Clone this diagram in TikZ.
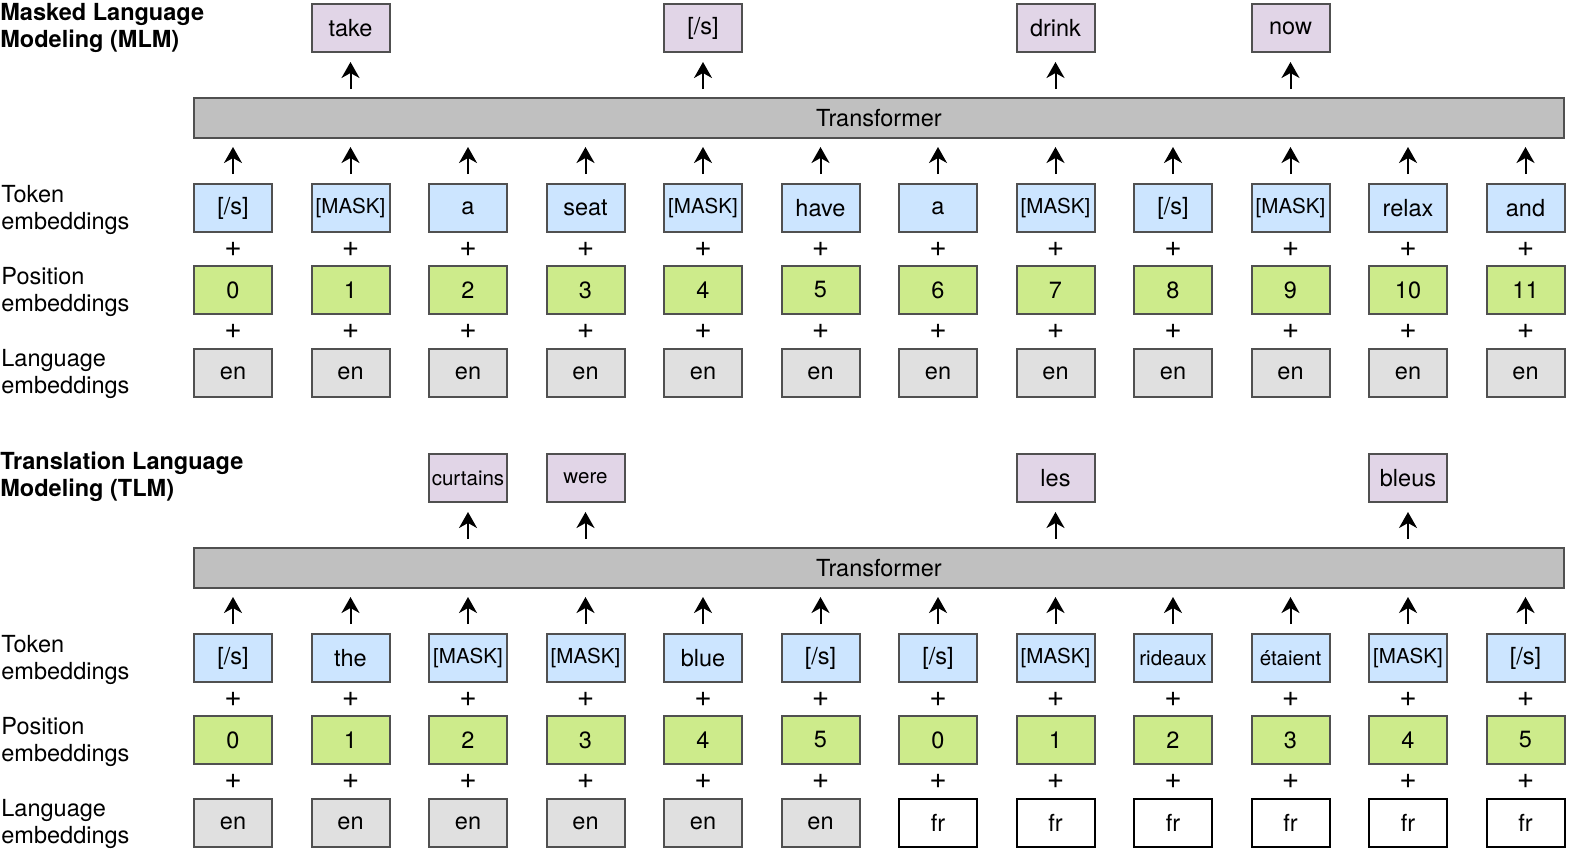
\documentclass[tikz,border=0pt]{standalone}
\usepackage{fontspec}
\setmainfont{TeX Gyre Heros}
\usepackage{tikz}
\usetikzlibrary{arrows.meta}
\usetikzlibrary{positioning}
\usepackage{color}
\definecolor{tokblue}{RGB}{204, 229, 255}
\definecolor{posgreen}{RGB}{205, 235, 139}
\definecolor{langgray}{RGB}{224, 224, 224}
\definecolor{outpurple}{RGB}{225, 213, 231}
\definecolor{transgray}{RGB}{192, 192, 192}
\definecolor{edgegray}{RGB}{80, 80, 80}
\newcommand{\smalltok}{\fontsize{10.3}{12}\selectfont}

\begin{document}
\begin{tikzpicture}[x=0.5bp, y=-0.5bp, font=\fontsize{11.8}{13.3}\selectfont,
    emb/.style={draw=edgegray, line width=1bp, minimum width=39bp, minimum height=24bp, inner sep=0pt},
    tokbox/.style={emb, fill=tokblue},
    posbox/.style={emb, fill=posgreen},
    langbox/.style={emb, fill=langgray},
    frbox/.style={emb, draw=black, fill=white},
    outbox/.style={emb, fill=outpurple},
    transbox/.style={emb, fill=transgray, minimum width=685bp, minimum height=20bp},
    plus/.style={font=\fontsize{15}{15}\selectfont},
    rowlabel/.style={anchor=west, align=left, inner sep=0pt},
    heading/.style={anchor=west, align=left, inner sep=0pt, font=\fontsize{11.8}{13.3}\selectfont\bfseries},
    up/.style={-{Stealth[length=8bp, width=9bp, inset=2.5bp]}, line width=1bp}]
  \useasboundingbox (0,0) rectangle (1573,853);

  % masked language modeling
  \node[heading] (mhead) at (0,28) {Masked Language\\Modeling (MLM)};
  \node[rowlabel] (mtoklab)  at (1,210) {Token\\embeddings};
  \node[rowlabel] (mposlab)  at (1,292) {Position\\embeddings};
  \node[rowlabel] (mlanglab) at (1,374) {Language\\embeddings};
  \node[transbox] (mtrans) at (879,118) {Transformer};
  \foreach \w [count=\i from 0] in {{[/s]},{\smalltok [MASK]},a,seat,{\smalltok [MASK]},have,a,{\smalltok [MASK]},{[/s]},{\smalltok [MASK]},relax,and} {
    \node[tokbox] (mtok-\i) at (233+117.5*\i,208) {\w};
    \node[posbox, below=16bp of mtok-\i] (mpos-\i) {\i};
    \node[langbox, below=16.5bp of mpos-\i] (mlang-\i) {en};
    \path (mtok-\i) -- (mpos-\i) node[plus, midway] {+};
    \path (mpos-\i) -- (mlang-\i) node[plus, midway] {+};
    \draw[up, shorten <=4.5bp, shorten >=4bp] (mtok-\i) -- (mtok-\i |- mtrans.south);
  }
  \foreach \c/\w in {1/take,4/{[/s]},7/drink,9/now} {
    \node[outbox] (mout-\c) at (233+117.5*\c,28) {\w};
    \draw[up, shorten <=4bp, shorten >=4.5bp] (mout-\c |- mtrans.north) -- (mout-\c);
  }

  % translation language modeling
  \node[heading] (thead) at (0,477) {Translation Language\\Modeling (TLM)};
  \node[rowlabel] (ttoklab)  at (1,660) {Token\\embeddings};
  \node[rowlabel] (tposlab)  at (1,742) {Position\\embeddings};
  \node[rowlabel] (tlanglab) at (1,824) {Language\\embeddings};
  \node[transbox] (ttrans) at (879,568) {Transformer};
  \foreach \w [count=\i from 0] in {{[/s]},the,{\smalltok [MASK]},{\smalltok [MASK]},blue,{[/s]},{[/s]},{\smalltok [MASK]},{\smalltok rideaux},{\smalltok étaient},{\smalltok [MASK]},{[/s]}} {
    \pgfmathtruncatemacro{\p}{mod(\i,6)}
    \node[tokbox] (ttok-\i) at (233+117.5*\i,658) {\w};
    \node[posbox, below=16bp of ttok-\i] (tpos-\i) {\p};
    \ifnum\i<6
      \node[langbox, below=16.5bp of tpos-\i] (tlang-\i) {en};
    \else
      \node[frbox, below=16.5bp of tpos-\i] (tlang-\i) {fr};
    \fi
    \path (ttok-\i) -- (tpos-\i) node[plus, midway] {+};
    \path (tpos-\i) -- (tlang-\i) node[plus, midway] {+};
    \draw[up, shorten <=4.5bp, shorten >=4bp] (ttok-\i) -- (ttok-\i |- ttrans.south);
  }
  \foreach \c/\w in {2/{\smalltok curtains},3/{\smalltok were},7/les,10/bleus} {
    \node[outbox] (tout-\c) at (233+117.5*\c,478) {\w};
    \draw[up, shorten <=4bp, shorten >=4.5bp] (tout-\c |- ttrans.north) -- (tout-\c);
  }
\end{tikzpicture}
\end{document}
